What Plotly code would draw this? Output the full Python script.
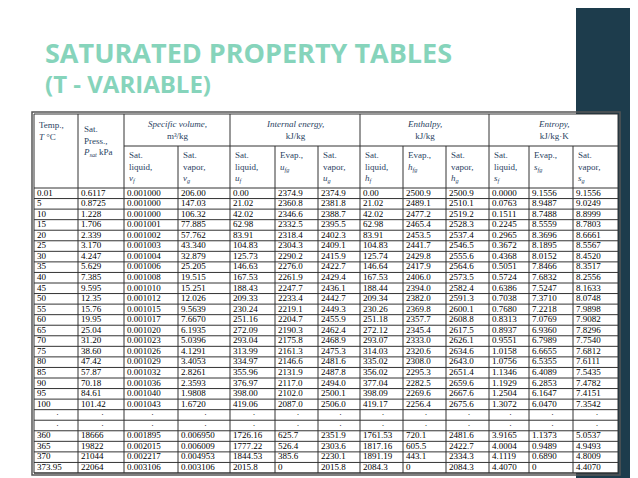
import plotly.graph_objects as go

W, H = 638, 478

temp = ["0.01", "5", "10", "15", "20", "25", "30", "35", "40", "45", "50", "55", "60", "65", "70", "75",
        "80", "85", "90", "95", "100", "·", "·", "360", "365", "370", "373.95"]
p_sat = ["0.6117", "0.8725", "1.228", "1.706", "2.339", "3.170", "4.247", "5.629", "7.385", "9.595", "12.35",
         "15.76", "19.95", "25.04", "31.20", "38.60", "47.42", "57.87", "70.18", "84.61", "101.42", "·", "·",
         "18666", "19822", "21044", "22064"]
v_f = ["0.001000", "0.001000", "0.001000", "0.001001", "0.001002", "0.001003", "0.001004", "0.001006",
       "0.001008", "0.001010", "0.001012", "0.001015", "0.001017", "0.001020", "0.001023", "0.001026",
       "0.001029", "0.001032", "0.001036", "0.001040", "0.001043", "·", "·", "0.001895", "0.002015",
       "0.002217", "0.003106"]
v_g = ["206.00", "147.03", "106.32", "77.885", "57.762", "43.340", "32.879", "25.205", "19.515", "15.251",
       "12.026", "9.5639", "7.6670", "6.1935", "5.0396", "4.1291", "3.4053", "2.8261", "2.3593", "1.9808",
       "1.6720", "·", "·", "0.006950", "0.006009", "0.004953", "0.003106"]
u_f = ["0.00", "21.02", "42.02", "62.98", "83.91", "104.83", "125.73", "146.63", "167.53", "188.43", "209.33",
       "230.24", "251.16", "272.09", "293.04", "313.99", "334.97", "355.96", "376.97", "398.00", "419.06",
       "·", "·", "1726.16", "1777.22", "1844.53", "2015.8"]
u_fg = ["2374.9", "2360.8", "2346.6", "2332.5", "2318.4", "2304.3", "2290.2", "2276.0", "2261.9", "2247.7",
        "2233.4", "2219.1", "2204.7", "2190.3", "2175.8", "2161.3", "2146.6", "2131.9", "2117.0", "2102.0",
        "2087.0", "·", "·", "625.7", "526.4", "385.6", "0"]
u_g = ["2374.9", "2381.8", "2388.7", "2395.5", "2402.3", "2409.1", "2415.9", "2422.7", "2429.4", "2436.1",
       "2442.7", "2449.3", "2455.9", "2462.4", "2468.9", "2475.3", "2481.6", "2487.8", "2494.0", "2500.1",
       "2506.0", "·", "·", "2351.9", "2303.6", "2230.1", "2015.8"]
h_f = ["0.00", "21.02", "42.02", "62.98", "83.91", "104.83", "125.74", "146.64", "167.53", "188.44", "209.34",
       "230.26", "251.18", "272.12", "293.07", "314.03", "335.02", "356.02", "377.04", "398.09", "419.17",
       "·", "·", "1761.53", "1817.16", "1891.19", "2084.3"]
h_fg = ["2500.9", "2489.1", "2477.2", "2465.4", "2453.5", "2441.7", "2429.8", "2417.9", "2406.0", "2394.0",
        "2382.0", "2369.8", "2357.7", "2345.4", "2333.0", "2320.6", "2308.0", "2295.3", "2282.5", "2269.6",
        "2256.4", "·", "·", "720.1", "605.5", "443.1", "0"]
h_g = ["2500.9", "2510.1", "2519.2", "2528.3", "2537.4", "2546.5", "2555.6", "2564.6", "2573.5", "2582.4",
       "2591.3", "2600.1", "2608.8", "2617.5", "2626.1", "2634.6", "2643.0", "2651.4", "2659.6", "2667.6",
       "2675.6", "·", "·", "2481.6", "2422.7", "2334.3", "2084.3"]
s_f = ["0.0000", "0.0763", "0.1511", "0.2245", "0.2965", "0.3672", "0.4368", "0.5051", "0.5724", "0.6386",
       "0.7038", "0.7680", "0.8313", "0.8937", "0.9551", "1.0158", "1.0756", "1.1346", "1.1929", "1.2504",
       "1.3072", "·", "·", "3.9165", "4.0004", "4.1119", "4.4070"]
s_fg = ["9.1556", "8.9487", "8.7488", "8.5559", "8.3696", "8.1895", "8.0152", "7.8466", "7.6832", "7.5247",
        "7.3710", "7.2218", "7.0769", "6.9360", "6.7989", "6.6655", "6.5355", "6.4089", "6.2853", "6.1647",
        "6.0470", "·", "·", "1.1373", "0.9489", "0.6890", "0"]
s_g = ["9.1556", "9.0249", "8.8999", "8.7803", "8.6661", "8.5567", "8.4520", "8.3517", "8.2556", "8.1633",
       "8.0748", "7.9898", "7.9082", "7.8296", "7.7540", "7.6812", "7.6111", "7.5435", "7.4782", "7.4151",
       "7.3542", "·", "·", "5.0537", "4.9493", "4.8009", "4.4070"]

columns = [temp, p_sat, v_f, v_g, u_f, u_fg, u_g, h_f, h_fg, h_g, s_f, s_fg, s_g]
groups = ["<i>Specific volume,</i><br>m³/kg", "<i>Internal energy,</i><br>kJ/kg",
          "<i>Enthalpy,</i><br>kJ/kg", "<i>Entropy,</i><br>kJ/kg·K"]
subheads = ["Sat.<br>liquid,<br><i>v<sub>f</sub></i>", "Sat.<br>vapor,<br><i>v<sub>g</sub></i>",
            "Sat.<br>liquid,<br><i>u<sub>f</sub></i>", "Evap.,<br><i>u<sub>fg</sub></i>", "Sat.<br>vapor,<br><i>u<sub>g</sub></i>",
            "Sat.<br>liquid,<br><i>h<sub>f</sub></i>", "Evap.,<br><i>h<sub>fg</sub></i>", "Sat.<br>vapor,<br><i>h<sub>g</sub></i>",
            "Sat.<br>liquid,<br><i>s<sub>f</sub></i>", "Evap.,<br><i>s<sub>fg</sub></i>", "Sat.<br>vapor,<br><i>s<sub>g</sub></i>"]

# column edges / row lines in pixel units (axes are set to pixel ranges)
edges = [26, 70, 116, 170, 222, 267, 310, 352, 395, 438, 481, 521, 565, 610]
top, mid, hdr, bot = 106, 138, 180, 465
nrows = len(temp)
rowh = (bot - hdr) / nrows
serif = "Liberation Serif"

fig = go.Figure()
for c, col in enumerate(columns):
    xs, ys = [], []
    for r, v in enumerate(col):
        dot = v == "·"
        xs.append((edges[c] + edges[c + 1]) / 2 if dot else edges[c] + 3)
        ys.append(hdr + (r + 0.5) * rowh)
    fig.add_trace(go.Scatter(x=xs, y=ys, text=col, mode="text", textposition="middle right",
                             textfont=dict(family=serif, size=9, color="black"),
                             hoverinfo="skip", showlegend=False))

shapes = []
line = dict(color="#333", width=1)
shapes.append(dict(type="rect", xref="x", yref="y", x0=568, x1=638, y0=0, y1=478,
                   fillcolor="#1d3c4c", line=dict(width=0), layer="below"))
shapes.append(dict(type="rect", xref="x", yref="y", x0=26, x1=610, y0=top, y1=bot,
                   fillcolor="white", line=line, layer="below"))
shapes.append(dict(type="line", xref="x", yref="y", x0=116, x1=610, y0=mid, y1=mid, line=line))
for r in range(nrows + 1):
    y = hdr + r * rowh
    shapes.append(dict(type="line", xref="x", yref="y", x0=26, x1=610, y0=y, y1=y, line=line))
for e in edges[1:-1]:
    y1 = top if e in (70, 116, 222, 352, 481) else mid
    shapes.append(dict(type="line", xref="x", yref="y", x0=e, x1=e, y0=y1, y1=bot, line=line))
shapes.append(dict(type="rect", xref="x", yref="y", x0=24, x1=612, y0=top - 2, y1=bot + 2,
                   line=dict(color="#555", width=1.5)))

ann = []
ann.append(dict(x=35, y=44, text="<b>SATURATED PROPERTY TABLES</b>", xanchor="left", yanchor="middle",
                font=dict(family="Open Sans", size=27, color="#86d4bb")))
ann.append(dict(x=35, y=75, text="<b>(T - VARIABLE)</b>", xanchor="left", yanchor="middle",
                font=dict(family="Open Sans", size=24, color="#86d4bb")))
ann.append(dict(x=29, y=110, text="Temp.,<br><i>T</i> °C", xanchor="left", yanchor="top", align="left",
                font=dict(family=serif, size=9)))
ann.append(dict(x=73, y=114, text="Sat.<br>Press.,<br><i>P<sub>sat</sub></i> kPa", xanchor="left",
                yanchor="top", align="left", font=dict(family=serif, size=9)))
gspan = [(116, 222), (222, 352), (352, 481), (481, 610)]
for g, (a, b) in zip(groups, gspan):
    ann.append(dict(x=(a + b) / 2, y=122, text=g, xanchor="center", yanchor="middle",
                    font=dict(family=serif, size=9)))
for k, s in enumerate(subheads):
    ann.append(dict(x=edges[k + 2] + 3, y=140, text=s, xanchor="left", yanchor="top", align="left",
                    font=dict(family=serif, size=9)))
for a in ann:
    a.update(xref="x", yref="y", showarrow=False)

fig.update_xaxes(range=[0, W], visible=False, fixedrange=True)
fig.update_yaxes(range=[H, 0], visible=False, fixedrange=True)
fig.update_layout(width=W, height=H, margin=dict(l=0, r=0, t=0, b=0), paper_bgcolor="white",
                  plot_bgcolor="white", shapes=shapes, annotations=ann)
fig.write_html("out.html")
